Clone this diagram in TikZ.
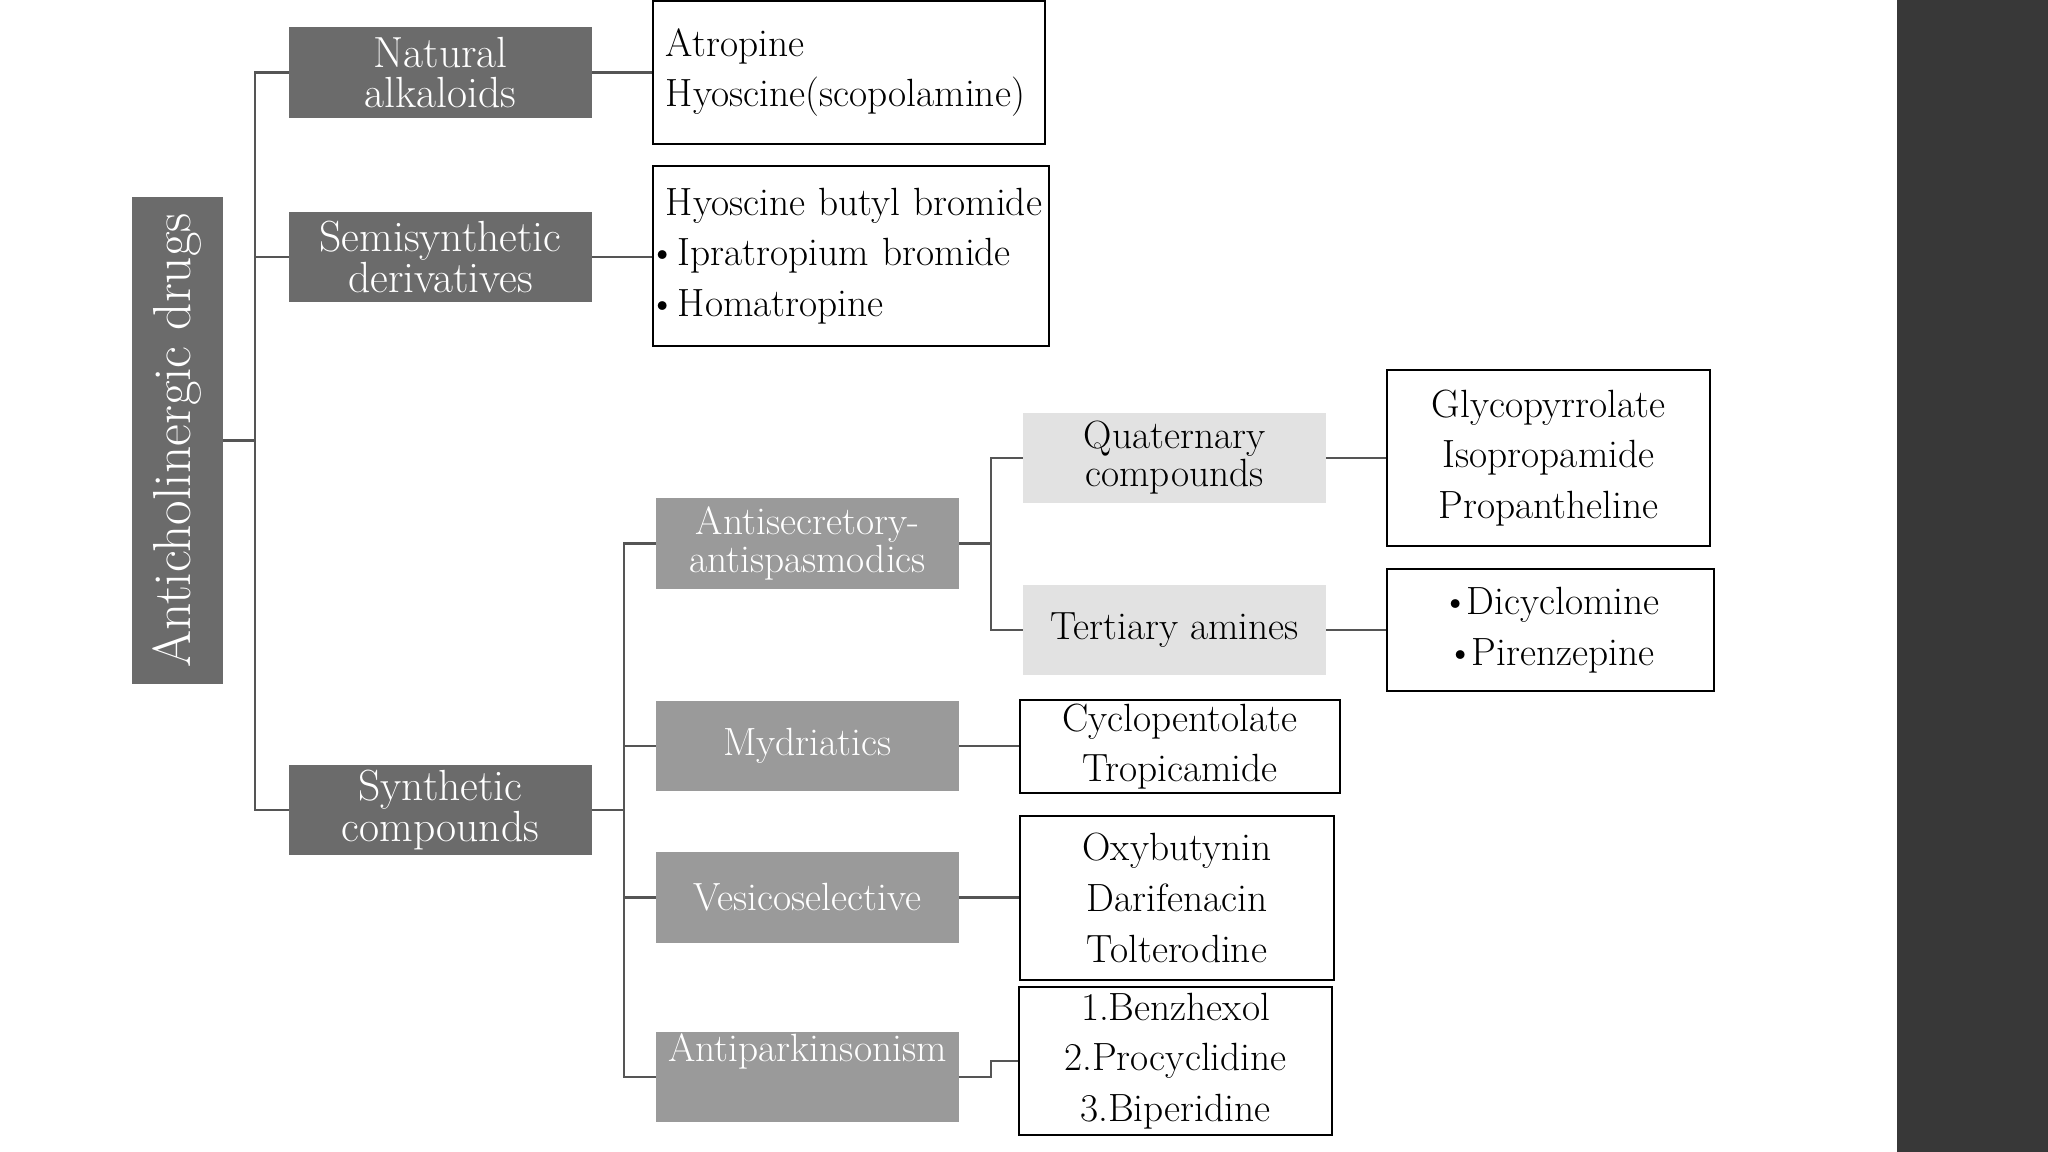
\documentclass[tikz,border=0pt]{standalone}
\usepackage{fontspec}
\usetikzlibrary{positioning}
\definecolor{darkbox}{HTML}{6B6B6B}
\definecolor{midbox}{HTML}{9A9A9A}
\definecolor{lightbox}{HTML}{E2E2E2}
\definecolor{linegray}{HTML}{555555}
\definecolor{sidebar}{HTML}{383838}
\newcommand{\catfont}{\fontsize{31}{29}\selectfont}
\newcommand{\subfont}{\fontsize{28}{27}\selectfont}
\newcommand{\listfont}{\fontsize{28}{36}\selectfont}
\tikzset{
  grp/.style={inner sep=0pt, minimum width=7.575cm, minimum height=2.25cm, align=center, font=\subfont},
  darkgrp/.style={grp, fill=darkbox, text=white, font=\catfont},
  midgrp/.style={grp, fill=midbox, text=white},
  lightgrp/.style={grp, fill=lightbox},
  lst/.style={draw=black, line width=1.7pt, inner sep=0pt, font=\listfont},
  link/.style={draw=linegray, line width=1.6pt}
}

\begin{document}
\begin{tikzpicture}[x=0.025cm,y=0.025cm]
\useasboundingbox (0,0) rectangle (2048,-1152);
\fill[sidebar] (1897,0) rectangle (2048,-1152);

\node[darkgrp, rotate=90, minimum width=12.175cm, minimum height=2.275cm, font=\fontsize{38}{40}\selectfont] (drugs) at (177.5,-440.5) {Anticholinergic drugs};

\node[darkgrp] (nat) at (440.5,-72.5) {Natural\\alkaloids};
\node[darkgrp] (semi) at (440.5,-257) {Semisynthetic\\derivatives};
\node[darkgrp] (synth) at (440.5,-810) {Synthetic\\compounds};

\node[lst, minimum width=9.8cm, minimum height=3.575cm, text width=9.15cm, align=left] (natlist) at (849,-72.5)
  {Atropine\\Hyoscine(scopolamine)};
\node[lst, minimum width=9.9cm, minimum height=4.5cm, text width=9.7cm, align=left] (semilist) at (851,-256)
  {\hspace{0.22cm}Hyoscine butyl bromide\\\hspace{-0.22cm}\textbullet\kern1pt Ipratropium bromide\\\hspace{-0.22cm}\textbullet\kern1pt Homatropine};

\node[midgrp] (antisec) at (807.5,-543.5) {Antisecretory-\\antispasmodics};
\node[midgrp] (myd) at (807.5,-746) {Mydriatics};
\node[midgrp] (vesi) at (807.5,-897.5) {Vesicoselective};
\node[midgrp] (park) at (807.5,-1077) {};
\node[text=white, font=\subfont, inner sep=0pt] (parktxt) at (807.5,-1051) {Antiparkinsonism};

\node[lightgrp] (quat) at (1174.5,-458) {Quaternary\\compounds};
\node[lightgrp] (tert) at (1174.5,-630) {Tertiary amines};

\node[lst, minimum width=8.075cm, minimum height=4.4cm, align=center] (quatlist) at (1548.5,-458)
  {Glycopyrrolate\\Isopropamide\\Propantheline};
\node[lst, minimum width=8.175cm, minimum height=3.05cm, align=center] (tertlist) at (1550.5,-630)
  {\textbullet\kern-2pt Dicyclomine\\\textbullet\kern-2pt Pirenzepine};
\node[lst, minimum width=8cm, minimum height=2.325cm, align=center] (mydlist) at (1180,-746.5)
  {Cyclopentolate\\Tropicamide};
\node[lst, minimum width=7.85cm, minimum height=4.1cm, align=center] (vesilist) at (1177,-898)
  {Oxybutynin\\Darifenacin\\Tolterodine};
\node[lst, minimum width=7.825cm, minimum height=3.7cm, align=center] (parklist) at (1175.5,-1061)
  {1.Benzhexol\\2.Procyclidine\\3.Biperidine};

% trunks
\coordinate (t1) at (255,-440.5);
\coordinate (t2) at (624,-810);
\coordinate (t3) at (991,-543.5);
\draw[link] (drugs.south) -- (t1);
\draw[link] (nat.west) -| (t1) |- (synth.west);
\draw[link] (semi.west) -- (semi.west -| t1);
\draw[link] (synth.east) -- (t2);
\draw[link] (antisec.west) -| (t2) |- (park.west);
\draw[link] (myd.west) -- (myd.west -| t2);
\draw[link] (vesi.west) -- (vesi.west -| t2);
\draw[link] (antisec.east) -- (t3);
\draw[link] (quat.west) -| (t3) |- (tert.west);

% to the lists
\draw[link] (nat.east) -- (nat.east -| natlist.west);
\draw[link] (semi.east) -- (semi.east -| semilist.west);
\draw[link] (quat.east) -- (quat.east -| quatlist.west);
\draw[link] (tert.east) -- (tert.east -| tertlist.west);
\draw[link] (myd.east) -- (myd.east -| mydlist.west);
\draw[link] (vesi.east) -- (vesi.east -| vesilist.west);
\draw[link] (park.east) -- ([xshift=0.8cm]park.east) |- (parklist.west);
\end{tikzpicture}
\end{document}
